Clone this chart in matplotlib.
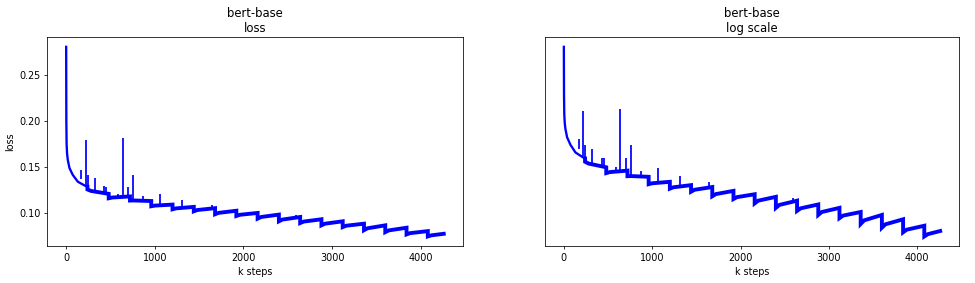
import numpy as np
import matplotlib
matplotlib.use("Agg")
import matplotlib.pyplot as plt

# first epoch: fast decay (k steps, loss)
warmup_steps = [0, 2, 5, 10, 18, 37, 75, 132, 207, 240]
warmup_loss = [0.281, 0.200, 0.175, 0.165, 0.158, 0.149, 0.1414, 0.134, 0.130, 0.1285]

# later epochs: loss at epoch start, shortly after start, and at epoch end (k steps)
epoch_bounds = [240, 480, 720, 960, 1200, 1440, 1680, 1920, 2160, 2400,
                2640, 2880, 3120, 3360, 3600, 3840, 4080, 4260]
early_offset = 40
epoch_start_loss = [0.1256, 0.1160, 0.1135, 0.1073, 0.1040, 0.1018, 0.0986, 0.0967,
                    0.0938, 0.0909, 0.0890, 0.0865, 0.0846, 0.0812, 0.0791, 0.0766, 0.0744]
epoch_early_loss = [0.1240, 0.1168, 0.1136, 0.1080, 0.1050, 0.1032, 0.1001, 0.0980,
                    0.0956, 0.0928, 0.0906, 0.0883, 0.0861, 0.0833, 0.0810, 0.0780, 0.0756]
epoch_end_loss = [0.1208, 0.1180, 0.1130, 0.1091, 0.1066, 0.1052, 0.1024, 0.1000,
                  0.0982, 0.0956, 0.0931, 0.0909, 0.0883, 0.0865, 0.0839, 0.0802, 0.0773]

# loss spikes
spike_steps = [170, 219, 245, 320, 430, 453, 585, 641, 698, 759, 868, 1064, 1310, 1640, 2590]
spike_base = [0.137, 0.131, 0.127, 0.124, 0.122, 0.121, 0.117, 0.118, 0.118, 0.113,
              0.1135, 0.108, 0.106, 0.105, 0.095]
spike_peak = [0.147, 0.179, 0.1414, 0.1377, 0.129, 0.1285, 0.121, 0.182, 0.1285, 0.1414,
              0.118, 0.1205, 0.114, 0.109, 0.0975]


def build_epochs():
    xs = [warmup_steps[-1]]
    ys = [warmup_loss[-1]]
    for i in range(len(epoch_start_loss)):
        xs += [epoch_bounds[i], epoch_bounds[i] + early_offset, epoch_bounds[i + 1]]
        ys += [epoch_start_loss[i], epoch_early_loss[i], epoch_end_loss[i]]
    return np.array(xs), np.array(ys)


ep_steps, ep_loss = build_epochs()

dpi = 975 / 14
fig = plt.figure(figsize=(14, 283 / dpi), dpi=dpi)
ax1 = fig.add_axes([0.0485, 0.131, 0.426, 0.737])
ax2 = fig.add_axes([0.559, 0.131, 0.4246, 0.737])

for ax in (ax1, ax2):
    ax.plot(warmup_steps, warmup_loss, color="b", linewidth=2.4)
    ax.plot(ep_steps, ep_loss, color="b", linewidth=4.0, solid_joinstyle="miter")
    ax.vlines(spike_steps, spike_base, spike_peak, color="b", linewidth=1.8)
    ax.set_xlabel("k steps")

ax1.set_title("bert-base\nloss")
ax1.set_ylabel("loss")

ax2.set_title("bert-base\nlog scale")
ax2.set_yscale("log")
ax2.set_yticks([])
ax2.set_yticks([], minor=True)

fig.savefig("out.png", dpi=dpi)
